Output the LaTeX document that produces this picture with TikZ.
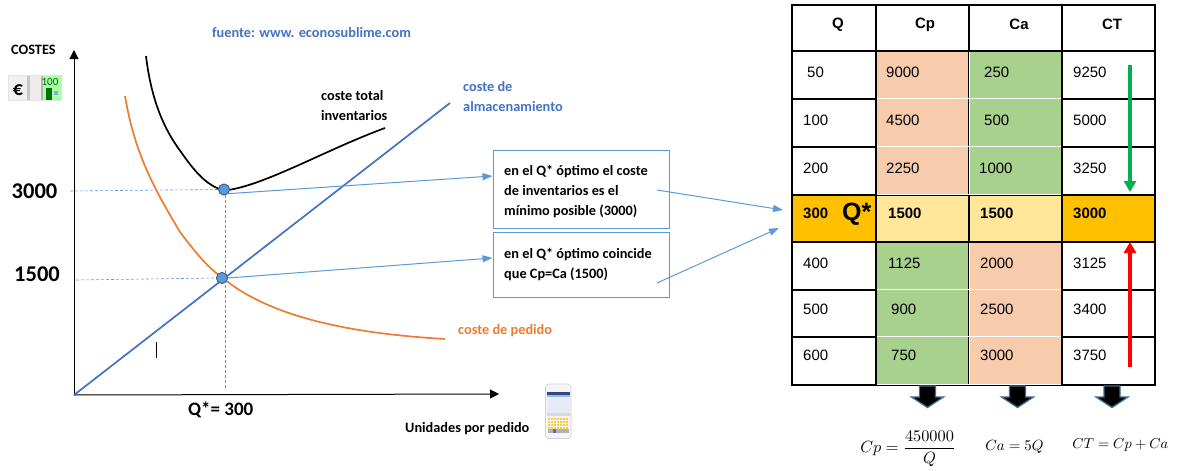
\documentclass[tikz,border=0pt]{standalone}
\usepackage{fontspec}
\setmainfont{Carlito}
\newfontfamily\arialf{Liberation Sans}
\usetikzlibrary{arrows.meta}
\definecolor{cblue}{HTML}{4472C4}
\definecolor{lblue}{HTML}{5B9BD5}
\definecolor{corange}{HTML}{ED7D31}
\definecolor{peach}{HTML}{F8CBAD}
\definecolor{cgreen}{HTML}{A9D18E}
\definecolor{gold}{HTML}{FFC000}
\definecolor{lgold}{HTML}{FFE699}
\definecolor{tgreen}{HTML}{00B050}
\tikzset{
 lab/.style={font=\fontsize{14.3}{16}\selectfont\bfseries,align=left,inner sep=0pt},
 big/.style={font=\fontsize{22.5}{24}\selectfont\bfseries,inner sep=0pt},
 cell/.style={font=\arialf\fontsize{15}{17}\selectfont,anchor=west,inner sep=0pt},
 bcell/.style={cell,font=\arialf\fontsize{15}{17}\selectfont\bfseries},
 hcell/.style={font=\arialf\fontsize{15}{17}\selectfont\bfseries,inner sep=0pt},
 infobox/.style={draw=lblue,line width=1pt,minimum width=176pt,inner sep=0pt,anchor=north west},
 infotext/.style={lab,anchor=west},
 axisline/.style={black,line width=1pt,-{Triangle[length=9pt,width=9pt]}},
 guide/.style={lblue,line width=.6pt,dashed,dash pattern=on 3pt off 2pt},
 thin arrow/.style={lblue,line width=1pt,-{Triangle[length=10pt,width=7pt]}},
 dot/.style={circle,fill=lblue,draw=cblue!80!black,line width=.8pt,minimum size=11pt,inner sep=0pt},
 curve/.style={line width=1.7pt},
 grid line/.style={black,line width=1.6pt},
 blockarrow/.style={fill=black,draw=lblue!70!black,line width=1.3pt,line join=miter},
 eq/.style={inner sep=0pt,anchor=west}
}
\begin{document}
\begin{tikzpicture}[x=1pt,y=-1pt]
\useasboundingbox (0,0) rectangle (1184,471);
\fill[white] (0,0) rectangle (1184,471);
% titles
\node[lab,text=cblue,anchor=west] (src) at (212,33) {fuente: www. econosublime.com};
\node[font=\fontsize{14.3}{16}\selectfont\bfseries,inner sep=0pt,anchor=west] (ylab) at (11,50) {COSTES};
% axes
\coordinate (o) at (74,395);
\coordinate (ytop) at (74,50);
\coordinate (xend) at (499,394);
\draw[axisline] (o) -- (ytop);
\draw[axisline] (o) -- (xend);
% guides
\coordinate (y3) at (70,191);
\coordinate (y15) at (76,280);
\coordinate (xq) at (225,390);
\node[dot] (p3) at (224,189.5) {};
\node[dot] (p15) at (222,278) {};
\draw[guide] (y3) -- (p3.west);
\draw[guide] (y15) -- (p15.west);
\draw[guide] (225,195) -- (xq);
% curves
\draw[cblue,curve] (o) -- (450,103);
\draw[curve,black] (146,56) .. controls (151,98) and (163,128) .. (181,152) .. controls (195,172) and (207,186) .. (224,190.5) .. controls (262,187) and (325,150) .. (385,128);
\draw[curve,corange] (125,96) .. controls (135,155) and (155,190) .. (180,232) .. controls (195,252) and (208,268) .. (224,279) .. controls (275,320) and (360,334) .. (445,339);
\node[dot] at (p3) {};
\node[dot] at (p15) {};
\draw[black,line width=.7pt] (156,342) -- (156,358);
% axis labels
\node[big] (l3) at (34.5,191) {3000};
\node[big] (l15) at (37,274.5) {1500};
\node[lab,font=\fontsize{19}{21}\selectfont\bfseries,anchor=west] (qs) at (188,410) {Q*= 300};
\node[lab,anchor=west] (up) at (405,429) {Unidades por pedido};
\node[lab,anchor=north west,font=\fontsize{14.3}{20}\selectfont\bfseries] (ctot) at (321,90) {coste total\\inventarios};
\node[lab,anchor=north west,text=cblue,font=\fontsize{14.3}{20}\selectfont\bfseries] (calm) at (463,81) {coste de\\almacenamiento};
\node[lab,text=corange,anchor=west] (cped) at (458,331) {coste de pedido};
% money icon
\fill[gray!20] (8,75) rectangle (62,101);
\fill[green!6!gray!12] (9,76) rectangle (28,100);
\fill[gray!45] (27,76) rectangle (30,100);
\fill[white!85!gray] (30,76) rectangle (41,100);
\fill[gray!60] (41,76) rectangle (43,100);
\fill[green!35!white] (43,76) rectangle (61,100);
\fill[green!45!black] (46,88) rectangle (52,100);
\fill[cblue!60] (54,91) rectangle (58,95);
\node[inner sep=0pt,font=\fontsize{20}{20}\selectfont\bfseries] (eur) at (18,90) {€};
\node[inner sep=0pt,text=green!40!black,font=\fontsize{11}{11}\selectfont] (cien) at (50,82) {100};
% phone icon
\fill[gray!8,draw=gray!35,rounded corners=3pt,line width=.6pt] (545.5,384) rectangle (571,438.5);
\fill[cblue!14] (547,392) rectangle (570,413);
\fill[cblue!65!black] (547,392) rectangle (570,394.5);
\fill[cblue!50] (547,395) rectangle (570,397);
\fill[gray!30] (547,413) rectangle (570,416);
\foreach \r in {417.5,420.5,423.5,426.5}
 \foreach \c in {548,551,554,557,560,563,566}
  \fill[gold!80] (\c,\r) rectangle (\c+2,\r+2);
\fill[gray!60] (548,429) rectangle (569,433);
\fill[cblue] (553,429) rectangle (556,433);
% info boxes
\node[infobox,minimum height=78pt] (b1) at (492.5,149.5) {};
\node[infobox,minimum height=65pt] (b2) at (492.5,231.5) {};
\node[infotext,font=\fontsize{14.3}{20}\selectfont\bfseries] (t1) at (504,191.5) {en el Q* óptimo el coste\\de inventarios es el\\mínimo posible (3000)};
\node[infotext,font=\fontsize{14.3}{20}\selectfont\bfseries] (t2) at (504,264.5) {en el Q* óptimo coincide\\que Cp=Ca (1500)};
\coordinate (b1out) at (657,190);
\coordinate (b2out) at (657,283);
\coordinate (t1in) at (783,210);
\coordinate (t2in) at (779,228);
\draw[thin arrow] (p3.south east) -- (b1.west |- 0,176);
\draw[thin arrow] (p15.east) -- (b2.west |- 0,258);
\draw[thin arrow] (b1out) -- (t1in);
\draw[thin arrow] (b2out) -- (t2in);
% table fills
\foreach \y/\h/\a/\b in {51/48/peach/cgreen,99/48/peach/cgreen,147/48/peach/cgreen,242/48/cgreen/peach,290/47/cgreen/peach,337/48/cgreen/peach}{
 \fill[\a] (876,\y) rectangle (969,\y+\h);
 \fill[\b] (969,\y) rectangle (1062,\y+\h);
}
\fill[gold] (792,195) rectangle (876,242);
\fill[lgold] (876,195) rectangle (1062,242);
\fill[gold] (1062,195) rectangle (1155,242);
% table grid
\draw[grid line] (792,5) rectangle (1155,385);
\foreach \x in {876,969,1062} \draw[grid line] (\x,5) -- (\x,385);
\foreach \y in {51,99,147,242,290,337}{
 \draw[grid line] (792,\y) -- (876,\y);
 \draw[grid line] (1062,\y) -- (1155,\y);
}
\foreach \y in {195,242} \draw[grid line] (792,\y) -- (1155,\y);
\foreach \y in {51}  \draw[grid line] (876,\y) -- (1062,\y);
\draw[white,line width=.8pt] (877,98.5) -- (1061,98.5) (877,146.5) -- (1061,146.5) (877,194) -- (1061,194) (877,289.5) -- (1061,289.5) (877,336.5) -- (1061,336.5) (877,384) -- (1061,384) (969,52) -- (969,194) (969,243) -- (969,384);
% header
\node[hcell] (hq) at (838,25) {Q};
\node[hcell] (hcp) at (925,25) {Cp};
\node[hcell] (hca) at (1019,24) {Ca};
\node[hcell] (hct) at (1112,24) {CT};
% rows
\foreach \n/\y/\q/\qx/\p/\px/\a/\ax/\t in {
 r1/72/50/807/9000/886/250/984/9250,
 r2/120/100/803/4500/886/500/984/5000,
 r3/168/200/803/2250/886/1000/979/3250,
 r4/263/400/803/1125/888/2000/980/3125,
 r5/309/500/803/900/891/2500/980/3400,
 r6/355/600/803/750/891/3000/980/3750}{
 \node[cell] (\n q) at (\qx,\y) {\q};
 \node[cell] (\n p) at (\px,\y) {\p};
 \node[cell] (\n a) at (\ax,\y) {\a};
 \node[cell] (\n t) at (1073,\y) {\t};
}
\node[bcell] (sq) at (803,213.5) {300};
\node[hcell,anchor=west,font=\arialf\fontsize{25}{28}\selectfont\bfseries] (sstar) at (842,214) {Q*};
\node[bcell] (sp) at (888,213.5) {1500};
\node[bcell] (sa) at (980,213.5) {1500};
\node[bcell] (st) at (1073,213.5) {3000};
% trend arrows
\coordinate (ga) at (1130,65);
\coordinate (gb) at (1130,192);
\coordinate (ra) at (1130,367);
\coordinate (rb) at (1130,242);
\draw[tgreen,line width=3.2pt,-{Triangle[length=11pt,width=12pt]}] (ga) -- (gb);
\draw[red,line width=3.2pt,-{Triangle[length=11pt,width=12pt]}] (ra) -- (rb);
% block arrows
\foreach \x in {927.5,1017.5,1112}{
 \draw[blockarrow] (\x-8,386) -- (\x+8,386) -- (\x+8,397) -- (\x+16,397) -- (\x,407.5) -- (\x-16,397) -- (\x-8,397) -- cycle;
}
% formulas
\node[eq,scale=1.63] (f1) at (860,449) {$Cp=\displaystyle\frac{450000}{Q}$};
\node[eq,scale=1.48] (f2) at (985,447) {$Ca=5Q$};
\node[eq,scale=1.44] (f3) at (1072,445) {$CT=Cp+Ca$};
\end{tikzpicture}
\end{document}
